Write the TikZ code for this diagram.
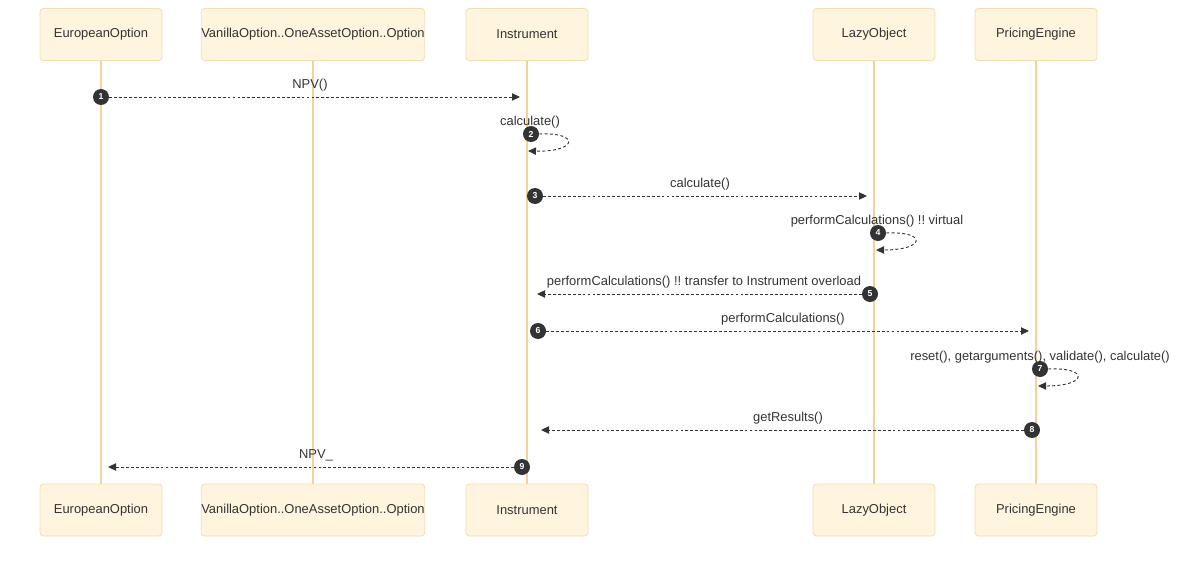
\documentclass[tikz,border=0pt]{standalone}
\usepackage{fontspec}
\setmainfont{Liberation Sans}
\usetikzlibrary{arrows.meta}
\definecolor{boxfill}{HTML}{FFF4DD}
\definecolor{boxline}{HTML}{F2DDB2}
\definecolor{lifeline}{HTML}{F2D39C}
\definecolor{ink}{HTML}{333333}
\tikzset{
  actor/.style={draw=boxline, fill=boxfill, rounded corners=2.5pt, line width=0.6pt,
    minimum height=52*0.75pt, text=ink, font=\fontsize{9.7}{11}\selectfont, inner sep=0pt},
  life/.style={draw=lifeline, line width=0.9pt},
  msg/.style={draw=ink, line width=0.7pt, dash pattern=on 2.1pt off 1.6pt,
    -{Triangle[length=6pt,width=5.5pt]}},
  selfmsg/.style={draw=ink, line width=0.7pt, dash pattern=on 2.2pt off 1.8pt,
    -{Triangle[length=6pt,width=5.5pt]}},
  num/.style={circle, fill=ink, text=white, inner sep=0pt, minimum size=12pt,
    font=\fontsize{6.5}{7}\selectfont\bfseries},
  lbl/.style={text=ink, font=\fontsize{9.7}{11}\selectfont, inner sep=0pt}
}
\frenchspacing
\begin{document}
\begin{tikzpicture}[x=0.75pt,y=-0.75pt]
\useasboundingbox (0,0) rectangle (1200,571);
% top actors
\node[actor, minimum width=122*0.75pt] (t1) at (101,34.5) {EuropeanOption};
\node[actor, minimum width=223*0.75pt] (t2) at (313,34.5) {VanillaOption..OneAssetOption..Option};
\node[actor, minimum width=122*0.75pt] (t3) at (527,34.5) {Instrument};
\node[actor, minimum width=122*0.75pt] (t4) at (874,34.5) {LazyObject};
\node[actor, minimum width=122*0.75pt] (t5) at (1036,34.5) {PricingEngine};
% bottom actors
\node[actor, minimum width=122*0.75pt] (b1) at (101,510) {EuropeanOption};
\node[actor, minimum width=223*0.75pt] (b2) at (313,510) {VanillaOption..OneAssetOption..Option};
\node[actor, minimum width=122*0.75pt] (b3) at (527,510) {Instrument};
\node[actor, minimum width=122*0.75pt] (b4) at (874,510) {LazyObject};
\node[actor, minimum width=122*0.75pt] (b5) at (1036,510) {PricingEngine};
% lifelines
\foreach \i in {1,...,5} \draw[life] (t\i.south) -- (b\i.north);

% 1
\node[num] (c1) at (101,97) {1};
\coordinate (e1) at (520,97);
\draw[msg] (c1.east) -- (e1);
\node[lbl] (l1) at (310,85) {NPV()};
% 2
\node[lbl] (l2) at (530,122) {calculate()};
\node[num] (c2) at (531,134) {2};
\coordinate (e2) at (528,151);
\draw[selfmsg] (c2.east) .. controls (580,132) and (578,152) .. (e2);
% 3
\node[num] (c3) at (535,196) {3};
\coordinate (e3) at (867,196);
\draw[msg] (c3.east) -- (e3);
\node[lbl] (l3) at (700,184) {calculate()};
% 4
\node[lbl] (l4) at (877,221) {performCalculations() !! virtual};
\node[num] (c4) at (878,233) {4};
\coordinate (e4) at (876,250);
\draw[selfmsg] (c4.east) .. controls (927,231) and (926,250) .. (e4);
% 5
\node[num] (c5) at (870,294) {5};
\coordinate (e5) at (537,294);
\draw[msg] (c5.west) -- (e5);
\node[lbl] (l5) at (704,282) {performCalculations() !! transfer to Instrument overload};
% 6
\node[num] (c6) at (538,331) {6};
\coordinate (e6) at (1029,331);
\draw[msg] (c6.east) -- (e6);
\node[lbl] (l6) at (783,319) {performCalculations()};
% 7
\node[lbl] (l7) at (1040,357) {reset(), getarguments(), validate(), calculate()};
\node[num] (c7) at (1040,369) {7};
\coordinate (e7) at (1038,386);
\draw[selfmsg] (c7.east) .. controls (1089,367) and (1088,386) .. (e7);
% 8
\node[num] (c8) at (1032,430) {8};
\coordinate (e8) at (541,430);
\draw[msg] (c8.west) -- (e8);
\node[lbl] (l8) at (788,418) {getResults()};
% 9
\node[num] (c9) at (522,467) {9};
\coordinate (e9) at (108,467);
\draw[msg] (c9.west) -- (e9);
\node[lbl] (l9) at (316,455) {NPV\_};
\end{tikzpicture}
\end{document}
